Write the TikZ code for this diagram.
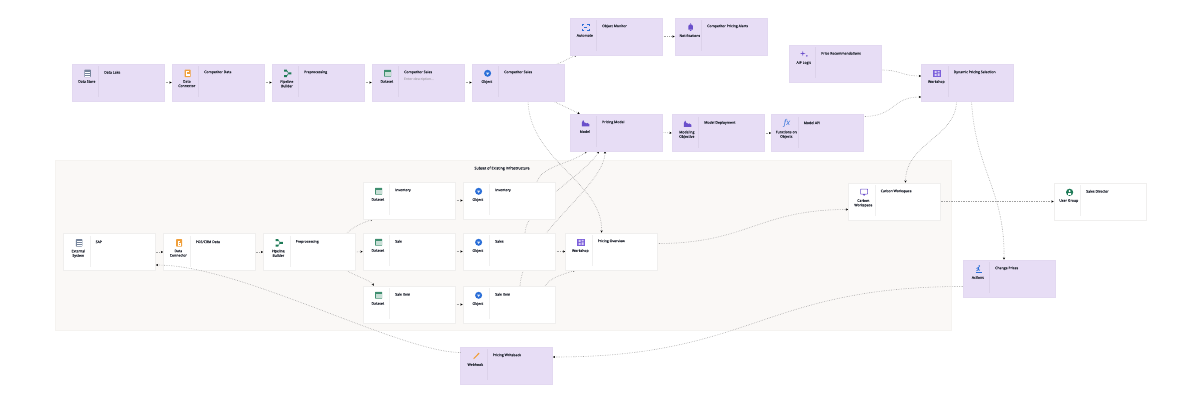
\documentclass[tikz,border=0pt]{standalone}
\usepackage{fontspec}
\setmainfont{Open Sans}
\newfontfamily\medf{Open Sans}[FakeBold=0.08]
\usetikzlibrary{calc,arrows.meta}
\pgfdeclarelayer{grp}\pgfdeclarelayer{lnk}
\pgfsetlayers{grp,lnk,main}
\definecolor{purp}{HTML}{E7DDF5}
\definecolor{purpe}{HTML}{E3D9F1}
\definecolor{grpbg}{HTML}{FAF8F6}
\definecolor{grpe}{HTML}{F5F3F0}
\definecolor{wedge}{HTML}{F0EFEE}
\definecolor{dvp}{HTML}{DCD2EA}
\definecolor{dvw}{HTML}{F0F0F0}
\definecolor{txt}{HTML}{2B2F3A}
\definecolor{lk}{HTML}{A0A0A0}
\definecolor{igray}{HTML}{76849B}
\definecolor{iorange}{HTML}{F0A03C}
\definecolor{igreen}{HTML}{1E7B57}
\definecolor{iblue}{HTML}{2B6FD8}
\definecolor{ipurp}{HTML}{6A4FCB}
\definecolor{iwork}{HTML}{7C5FDB}
\tikzset{
  x=1pt,y=-1pt,
  cardbase/.style={anchor=north west,minimum width=92pt,minimum height=37pt,inner sep=0pt,outer sep=0pt,line width=.5pt},
  pcard/.style={cardbase,fill=purp,draw=purpe},
  wcard/.style={cardbase,fill=white,draw=wedge},
  kindlabel/.style={anchor=north,align=center,font=\medf\fontsize{3.5}{4.4}\selectfont,text=txt,inner sep=0pt},
  titlelabel/.style={anchor=west,font=\medf\fontsize{3.5}{4.4}\selectfont,text=txt,inner sep=0pt},
  desclabel/.style={anchor=west,font=\fontsize{3.4}{4.4}\selectfont,text=gray,inner sep=0pt},
  link/.style={draw=lk,line width=.6pt,dash pattern=on .55pt off 1.15pt,-{Stealth[length=2.2pt,width=2.2pt,black]},shorten >=.4pt},
  ds/.pic={\fill[igray,rounded corners=.6pt](-3.2,-3.7) rectangle (3.2,3.7);
    \draw[white,line width=.4pt](-2.4,-1.4)--(2.4,-1.4)(-2.4,.6)--(2.4,.6)(-2.4,2.4)--(2.4,2.4);},
  dc/.pic={\fill[iorange,rounded corners=.6pt](-3,-3.7) rectangle (3,3.7);
    \draw[white,line width=.5pt](-1.2,2.4)--(-1.2,-1.6)--(1.2,-1.6)(-1.2,.6)--(1.4,.6)--(1.4,2.4)--(-1.2,2.4);},
  pb/.pic={\fill[igreen](-3.6,-3.8) rectangle (-.8,-1.8)(-3.6,1.8) rectangle (-.8,3.8)(.8,-1) rectangle (3.8,1);
    \draw[igreen,line width=.5pt](-.8,-2.8)--(.8,0)--(-.8,2.8);},
  dset/.pic={\fill[igreen!85!white,rounded corners=.5pt](-3.6,-3.4) rectangle (3.6,3.4);
    \fill[igreen!25!white](-2.9,-1.6) rectangle (2.9,2.7);},
  obj/.pic={\fill[iblue](0,0) circle (3.5);
    \fill[white!85!iblue](-1.7,-.8)--(1.7,-.8)--(0,1.6)--cycle;},
  auto/.pic={\draw[iblue,line width=.55pt](-3.7,-1.6)--(-3.7,-3.2)--(-1.6,-3.2)(1.6,-3.2)--(3.7,-3.2)--(3.7,-1.6)(3.7,1.6)--(3.7,3.2)--(1.6,3.2)(-1.6,3.2)--(-3.7,3.2)--(-3.7,1.6);
    \fill[iblue](-1.6,-.4) rectangle (1.6,.5);},
  bell/.pic={\fill[ipurp](-2.3,2.4)--(-2.3,-1) .. controls (-2.3,-3.6) and (2.3,-3.6) .. (2.3,-1)--(2.3,2.4)--cycle;
    \fill[ipurp](0,-3.4) circle (.6)(-.8,2.9) rectangle (.8,3.6);},
  mdl/.pic={\fill[ipurp](-3.8,3)--(-3.8,-.6)--(-2.4,-3.2)--(-1,-.6)--(-.4,-.6)--(.6,.2)--(1.6,-.4)--(3.8,1)--(3.8,3)--cycle;},
  fxi/.pic={\node[inner sep=0pt,text=iblue,font=\fontsize{8}{8}\selectfont\itshape] at (0,0) {fx};},
  aip/.pic={\fill[ipurp](-1.8,-3.4)--(-1.3,-1.3)--(.8,-.8)--(-1.3,-.3)--(-1.8,1.8)--(-2.3,-.3)--(-4.4,-.8)--(-2.3,-1.3)--cycle;
    \fill[ipurp](2.2,1.6) circle (.9);},
  wsp/.pic={\fill[iwork](-3.7,-3.7) rectangle (3.7,3.7);
    \fill[iwork!30!white](-2.5,-2.5) rectangle (-.5,-.4)(-2.5,.6) rectangle (-.5,2.5)(.5,-2.5) rectangle (2.5,-1)(.5,0) rectangle (2.5,2.5);},
  carb/.pic={\draw[ipurp,line width=.6pt,rounded corners=.4pt](-3.5,-3.2) rectangle (3.5,1.8);
    \fill[ipurp](-1.4,1.8)--(1.4,1.8)--(0,3.6)--cycle;},
  ugrp/.pic={\fill[igreen](0,0) circle (3.6);
    \fill[white](0,-1.2) circle (1.1)(-1.4,2.6)--(-1.4,.8)--(1.4,.8)--(1.4,2.6)--cycle;},
  actn/.pic={\fill[iblue](.6,-3.3) circle (.9);
    \draw[iblue,line width=.8pt](.2,-2)--(-.4,.3)--(1.3,1)(.2,-2)--(-2,-.8)(-.4,.3)--(-2,1.6);
    \draw[iblue,line width=.6pt](-2.8,3.2)--(3,3.2);},
  wbh/.pic={\fill[iorange](2.6,-3.6)--(3.4,-2.8)--(-1.8,2.4)--(-2.8,2.8)--(-2.4,1.7)--cycle;},
}
% name, x, y, style, icon, kind label, title
\newcommand{\mkcard}[7]{%
  \node[#4] (#1) at (#2,#3) {};
  \draw[#4line] ($(#1.north west)+(26.2,2)$) -- ($(#1.north west)+(26.2,33)$);
  \pic at ($(#1.north west)+(15.6,9.3)$) {#5};
  \node[kindlabel] (#1k) at ($(#1.north west)+(14.8,16)$) {#6};
  \node[titlelabel] (#1t) at ($(#1.north west)+(32,8.3)$) {#7};
}
\tikzset{pcardline/.style={draw=dvp,line width=.3pt},wcardline/.style={draw=dvw,line width=.3pt}}
\newcommand{\lnk}[4]{\draw[link] #1 .. controls +#2 and +#3 .. #4;}
\begin{document}
\begin{tikzpicture}
\useasboundingbox (0,0) rectangle (1200,402);
% cards
\mkcard{lake}{72}{64}{pcard}{ds}{Data Store}{Data Lake}
\mkcard{cdata}{172}{64}{pcard}{dc}{Data\\Connector}{Competitor Data}
\mkcard{cprep}{272}{64}{pcard}{pb}{Pipeline\\Builder}{Preprocessing}
\mkcard{csset}{372}{64}{pcard}{dset}{Dataset}{Competitor Sales}
\node[desclabel] (cssetd) at ($(csset.north west)+(32,16)$) {Enter description...};
\mkcard{csobj}{472}{64}{pcard}{obj}{Object}{Competitor Sales}
\mkcard{omon}{570}{18}{pcard}{auto}{Automate}{Object Monitor}
\mkcard{alert}{675}{18}{pcard}{bell}{Notifications}{Competitor Pricing Alerts}
\mkcard{pmod}{570}{114}{pcard}{mdl}{Model}{Pricing Model}
\mkcard{mdep}{672}{114.5}{pcard}{mdl}{Modeling\\Objective}{Model Deployment}
\mkcard{mapi}{771.5}{114.5}{pcard}{fxi}{Functions on\\Objects}{Model API}
\mkcard{prec}{789}{45}{pcard}{aip}{AIP Logic}{Price Recommendations}
\mkcard{dyn}{921.5}{64}{pcard}{wsp}{Workshop}{Dynamic Pricing Selection}
\mkcard{sap}{63.5}{233.5}{wcard}{ds}{External\\System}{SAP}
\mkcard{pos}{163.5}{233.5}{wcard}{dc}{Data\\Connector}{POS/CRM Data}
\mkcard{prep}{263.5}{233.5}{wcard}{pb}{Pipeline\\Builder}{Preprocessing}
\mkcard{invd}{363}{182}{wcard}{dset}{Dataset}{Inventory}
\mkcard{invo}{463}{182}{wcard}{obj}{Object}{Inventory}
\mkcard{sald}{363}{233}{wcard}{dset}{Dataset}{Sale}
\mkcard{salo}{463}{233}{wcard}{obj}{Object}{Sales}
\mkcard{itd}{363}{286}{wcard}{dset}{Dataset}{Sale Item}
\mkcard{ito}{463}{286}{wcard}{obj}{Object}{Sale Item}
\mkcard{pov}{565.5}{233}{wcard}{wsp}{Workshop}{Pricing Overview}
\mkcard{carb}{848.5}{183}{wcard}{carb}{Carbon\\Workspace}{Carbon Workspace}
\mkcard{dir}{1054}{183}{wcard}{ugrp}{User Group}{Sales Director}
\mkcard{chg}{963}{260}{pcard}{actn}{Actions}{Change Prices}
\mkcard{wb}{460.5}{347}{pcard}{wbh}{Webhook}{Pricing Writeback}
\begin{pgfonlayer}{grp}
\fill[white] (0,0) rectangle (1200,402);
\node[anchor=north west,minimum width=896pt,minimum height=170pt,inner sep=0pt,fill=grpbg,draw=grpe,line width=.5pt] (grp) at (54.5,160) {};
\end{pgfonlayer}
\node[anchor=center,font=\medf\fontsize{3.7}{4.6}\selectfont,text=txt,inner sep=0pt] (grpt) at (502,168.5) {Subset of Existing Infrastructure};
\lnk{($(wb.north west)+(0,5.5)$)}{(-60,0)}{(85,0)}{($(sap.south east)+(0,-5.5)$)}
\begin{pgfonlayer}{lnk}
\foreach \a/\b in {lake/cdata,cdata/cprep,cprep/csset,csset/csobj,omon/alert,pmod/mdep,mdep/mapi,
  sap/pos,pos/prep,prep/sald,invd/invo,sald/salo,itd/ito,salo/pov,carb/dir}
  \draw[link] (\a.east) -- (\b.west);
\lnk{($(csobj.north east)+(-7,0)$)}{(8,-3)}{(-8,3)}{($(omon.south west)+(7,0)$)}
\lnk{($(csobj.south east)+(-11,0)$)}{(10,5)}{(-10,-5)}{($(pmod.north west)+(10,0)$)}
\lnk{($(csobj.south west)+(56,0)$)}{(2,60)}{(2,-50)}{($(pov.north west)+(36,0)$)}
\lnk{($(invo.north west)+(74,0)$)}{(4,-16)}{(-14,12)}{($(pmod.south west)+(17,0)$)}
\lnk{($(salo.north west)+(62,0)$)}{(1,-28)}{(-14,24)}{($(pmod.south west)+(29,0)$)}
\lnk{($(ito.north west)+(57,0)$)}{(3,-50)}{(0,35)}{($(pmod.south west)+(35,0)$)}
\lnk{($(ito.north east)+(-10,0)$)}{(6,-9)}{(-14,5)}{($(pov.south west)+(10,0)$)}
\lnk{($(prep.north east)+(-9,0)$)}{(8,-8)}{(-10,4)}{($(invd.south west)+(10,0)$)}
\lnk{($(prep.south east)+(-9,0)$)}{(10,6)}{(-4,-6)}{($(itd.north west)+(11,0)$)}
\lnk{($(pov.east)+(0,-8)$)}{(90,0)}{(-90,0)}{($(carb.west)+(0,8)$)}
\lnk{($(mapi.north east)+(0,2)$)}{(32,0)}{(-30,0)}{($(dyn.south west)+(0,-4)$)}
\lnk{($(prec.north east)+(0,25)$)}{(20,0)}{(-20,0)}{($(dyn.north west)+(0,12)$)}
\lnk{($(dyn.south west)+(35,0)$)}{(0,36)}{(0,-40)}{($(carb.north west)+(57,0)$)}
\lnk{($(dyn.south west)+(50,0)$)}{(4,70)}{(1,-70)}{($(chg.north west)+(41,0)$)}
\lnk{($(chg.south west)+(0,-10.5)$)}{(-200,0)}{(200,0)}{($(wb.north east)+(0,10)$)}
\end{pgfonlayer}
\end{tikzpicture}
\end{document}
